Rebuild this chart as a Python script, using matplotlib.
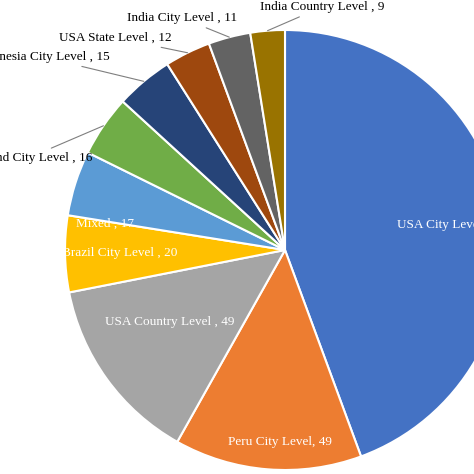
import numpy as np
import matplotlib.pyplot as plt

labels = ["USA City Level", "Peru City Level", "USA Country Level", "Brazil City Level",
          "Mixed", "England City Level", "Indonesia City Level", "USA State Level",
          "India City Level", "India Country Level"]
values = [158, 49, 49, 20, 17, 16, 15, 12, 11, 9]
colors = ["#4472C4", "#ED7D31", "#A5A5A5", "#FFC000", "#5B9BD5", "#70AD47",
          "#264478", "#9E480E", "#636363", "#997300"]

W = 474
cx, cy, R = 285, 250, 220

fig = plt.figure(figsize=(4.74, 4.74), dpi=100)
ax = fig.add_axes([0, 0, 1, 1])

wedges, _ = ax.pie(values, colors=colors, startangle=90, counterclock=False,
                   radius=1, wedgeprops=dict(edgecolor="white", linewidth=1.5))
ax.set_aspect("auto")
ax.set_xlim(-cx / R, (W - cx) / R)
ax.set_ylim(-(W - cy) / R, cy / R)
ax.axis("off")

def px(x, y):
    return ((x - cx) / R, (cy - y) / R)

fs = 9.5
# inside labels (pixel position of text centre)
inside = {0: (440, 225), 1: (280, 442), 2: (170, 322), 3: (120, 253), 4: (105, 224)}
for i, (x, y) in inside.items():
    txt = labels[i] if i == 0 else f"{labels[i]} , {values[i]}"
    if i == 1:
        txt = f"{labels[i]}, {values[i]}"
    ax.text(*px(x, y), txt, color="white", fontsize=fs, ha="center", va="center",
            family="Liberation Serif")

# outside labels with leader lines (pixel position of text right end)
outside = {5: (92, 158), 6: (110, 57), 7: (172, 38), 8: (237, 18), 9: (260, 7)}
for i, (x, y) in outside.items():
    w = wedges[i]
    ang = np.deg2rad((w.theta1 + w.theta2) / 2)
    edge = (np.cos(ang), np.sin(ang))
    ha = "left" if i == 9 else "right"
    ax.annotate(f"{labels[i]} , {values[i]}", xy=edge, xytext=px(x, y),
                fontsize=fs, ha=ha, va="center", family="Liberation Serif",
                arrowprops=dict(arrowstyle="-", color="#7f7f7f", lw=0.8,
                                shrinkA=2, shrinkB=0))

fig.savefig("out.png", dpi=100)
